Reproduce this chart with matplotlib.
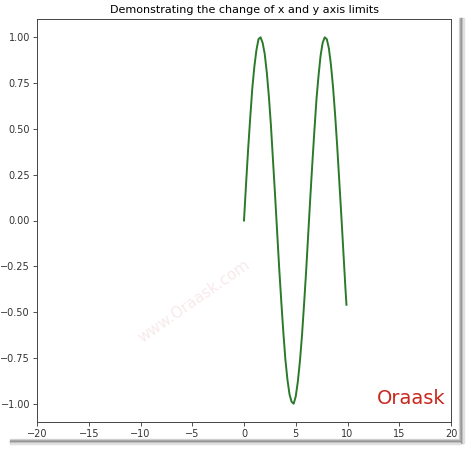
import matplotlib.pyplot as plt
from matplotlib.patches import Rectangle

# sine curve (x from 0 to 9.9)
x_vals = [0, 0.2, 0.4, 0.6, 0.8, 1.0, 1.2, 1.4, 1.6, 1.8,
          2.0, 2.2, 2.4, 2.6, 2.8, 3.0, 3.2, 3.4, 3.6, 3.8,
          4.0, 4.2, 4.4, 4.6, 4.8, 5.0, 5.2, 5.4, 5.6, 5.8,
          6.0, 6.2, 6.4, 6.6, 6.8, 7.0, 7.2, 7.4, 7.6, 7.8,
          8.0, 8.2, 8.4, 8.6, 8.8, 9.0, 9.2, 9.4, 9.6, 9.8, 9.9]
y_vals = [0.00, 0.20, 0.39, 0.56, 0.72, 0.84, 0.93, 0.99, 1.00, 0.97,
          0.91, 0.81, 0.68, 0.52, 0.33, 0.14, -0.06, -0.26, -0.44, -0.61,
          -0.76, -0.87, -0.95, -0.99, -1.00, -0.96, -0.88, -0.77, -0.63, -0.46,
          -0.28, -0.08, 0.12, 0.31, 0.49, 0.66, 0.79, 0.90, 0.97, 1.00,
          0.99, 0.94, 0.85, 0.73, 0.58, 0.41, 0.22, 0.03, -0.17, -0.37, -0.46]

W, H = 474, 454
fig = plt.figure(figsize=(W / 100, H / 100), dpi=100)
fig.patch.set_facecolor("white")

# soft screenshot shadow on right and bottom
for i, c in enumerate(["#d8d8d8", "#b0b0b0", "#909090", "#b8b8b8", "#e0e0e0"]):
    fig.patches.append(Rectangle(((459 + i) / W, 1 - 443 / H), 1 / W, 425 / H,
                                 transform=fig.transFigure, color=c, zorder=0))
    fig.patches.append(Rectangle((10 / W, 1 - (440 + i) / H), 450 / W, 1 / H,
                                 transform=fig.transFigure, color=c, zorder=0))

ax = fig.add_axes([37 / W, 1 - 422 / H, 414 / W, 403 / H])
ax.plot(x_vals, y_vals, color="#2a7a2a", linewidth=1.4)
ax.set_xlim(-20, 20)
ax.set_ylim(-1.1, 1.1)
ax.set_xticks(range(-20, 21, 5))
ax.set_yticks([-1.0, -0.75, -0.5, -0.25, 0.0, 0.25, 0.5, 0.75, 1.0])
ax.tick_params(labelsize=7, length=3, width=0.6, pad=2, colors="#333333")
for s in ax.spines.values():
    s.set_linewidth(0.7)
    s.set_color("#444444")
ax.set_title("Demonstrating the change of x and y axis limits", fontsize=8, pad=4)

# watermarks
ax.text(0.905, 0.035, "Oraask", transform=ax.transAxes, color="#c8281e",
        fontsize=14, ha="center", va="bottom")
ax.text(0.38, 0.3, "www.Oraask.com", transform=ax.transAxes, color="#f8eaec",
        fontsize=11, rotation=35, ha="center", va="center")

fig.savefig("out.png", dpi=100)
